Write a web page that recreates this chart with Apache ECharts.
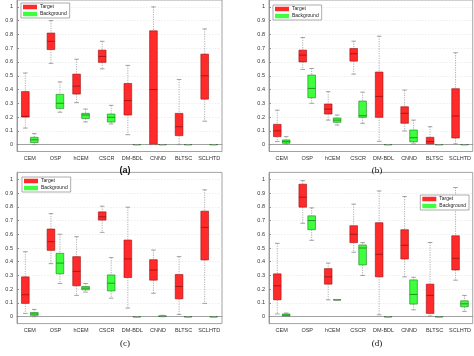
<!DOCTYPE html>
<html>
<head>
<meta charset="utf-8">
<script src="https://cdn.jsdelivr.net/npm/echarts@6/dist/echarts.min.js"></script>
<style>html,body{margin:0;padding:0;background:#fff;}#c{width:474px;height:356px;}</style>
</head>
<body>
<div id="c"></div>
<script>
const categories = ['CEM','OSP','hCEM','CSCR','DM-BDL','CNND','BLTSC','SCLHTD'];
const yTicks = [0,0.1,0.2,0.3,0.4,0.5,0.6,0.7,0.8,0.9,1];
const panelLabels = ['(a)','(b)','(c)','(d)'];
// each item: [min, q1, median, q3, max]
const targetA = [[0.12,0.20,0.205,0.385,0.52],[0.59,0.69,0.75,0.81,0.90],[0.305,0.367,0.425,0.512,0.62],[0.55,0.597,0.64,0.686,0.75],[0.072,0.215,0.32,0.444,0.575],[0,0.002,0.4,0.826,1.0],[0,0.065,0.13,0.227,0.473],[0.17,0.33,0.5,0.657,0.84]];
const backgroundA = [[0,0.015,0.035,0.053,0.08],[0.235,0.263,0.30,0.365,0.455],[0.165,0.19,0.215,0.227,0.258],[0.15,0.164,0.198,0.222,0.285],[0,0,0,0,0],[0,0,0,0,0],[0,0,0,0,0],[0,0,0,0,0]];
const targetB = [[0.022,0.058,0.10,0.147,0.25],[0.546,0.60,0.65,0.686,0.778],[0.178,0.222,0.258,0.295,0.384],[0.512,0.606,0.66,0.698,0.751],[0.024,0.198,0.35,0.527,0.787],[0.099,0.155,0.227,0.275,0.396],[0,0.005,0.022,0.053,0.13],[0.005,0.048,0.208,0.406,0.667]];
const backgroundB = [[0.003,0.01,0.022,0.034,0.058],[0.30,0.34,0.408,0.505,0.553],[0.142,0.162,0.178,0.193,0.215],[0.155,0.198,0.21,0.316,0.381],[0,0,0,0,0],[0.005,0.02,0.05,0.106,0.178],[0,0,0,0,0],[0,0,0,0,0]];
const targetC = [[0.024,0.097,0.16,0.29,0.473],[0.386,0.483,0.546,0.638,0.75],[0.155,0.225,0.33,0.437,0.582],[0.614,0.703,0.727,0.763,0.804],[0.063,0.285,0.42,0.558,0.797],[0.171,0.266,0.34,0.415,0.485],[0.017,0.13,0.22,0.307,0.437],[0.097,0.413,0.65,0.768,0.923]];
const backgroundC = [[0,0.01,0.02,0.031,0.053],[0.242,0.312,0.39,0.461,0.60],[0.179,0.196,0.208,0.22,0.242],[0.135,0.188,0.244,0.304,0.43],[0,0,0,0,0],[0,0.002,0.004,0.006,0.01],[0,0,0,0,0],[0,0,0,0,0]];
const targetD = [[0.02,0.123,0.225,0.312,0.534],[0.68,0.797,0.87,0.964,0.99],[0.123,0.237,0.29,0.35,0.39],[0.469,0.539,0.60,0.662,0.819],[0.014,0.29,0.454,0.684,0.915],[0.29,0.42,0.52,0.633,0.874],[0.005,0.024,0.155,0.237,0.54],[0.266,0.34,0.425,0.589,0.94]];
const backgroundD = [[0.002,0.005,0.012,0.02,0.027],[0.556,0.633,0.70,0.734,0.792],[0.123,0.123,0.123,0.123,0.123],[0.30,0.377,0.50,0.522,0.539],[0,0,0,0,0],[0.05,0.092,0.162,0.268,0.287],[0,0,0,0,0],[0.039,0.072,0.094,0.116,0.155]];

const panels = [
  {t: targetA, b: backgroundA},
  {t: targetB, b: backgroundB},
  {t: targetC, b: backgroundC},
  {t: targetD, b: backgroundD}
];
const gridRects = [
  {left:17, top:0, width:205, height:151.5},
  {left:269, top:0, width:204, height:151.5},
  {left:17, top:172.4, width:205, height:151.2},
  {left:269, top:172.4, width:204, height:151.2}
];
const legendPos = [
  {left:21, top:3},
  {left:273, top:5},
  {left:22, top:177},
  {right:5, top:195}
];
const labelPos = [[120,161],[372,161],[120,334],[372,334]];

const RED = '#ff2a2a', RED_B = '#9b1010', GREEN = '#3dff3d', GREEN_B = '#1f7a1f';

function makeRender(side, fill, border) {
  return function (params, api) {
    const idx = api.value(0);
    const bw = api.size([1, 0])[0];
    const base = api.coord([idx, 0]);
    const cx = base[0] + side * bw * 0.175;
    const w = bw * 0.3;
    const Y = v => api.coord([idx, v])[1];
    const mn = Y(api.value(1)), q1 = Y(api.value(2)), md = Y(api.value(3)), q3 = Y(api.value(4)), mx = Y(api.value(5));
    const wStyle = {stroke:'#9a9a9a', lineWidth:0.8, lineDash:[1.2,1.2]};
    const cStyle = {stroke:'#8a8a8a', lineWidth:0.8};
    const cw = w * 0.3;
    return {type:'group', children:[
      {type:'line', shape:{x1:cx,y1:mx,x2:cx,y2:q3}, style:wStyle},
      {type:'line', shape:{x1:cx,y1:q1,x2:cx,y2:mn}, style:wStyle},
      {type:'rect', shape:{x:cx-w/2, y:q3, width:w, height:Math.max(q1-q3,0.01)}, style:{fill:fill, stroke:border, lineWidth:0.6}},
      {type:'line', shape:{x1:cx-w/2,y1:md,x2:cx+w/2,y2:md}, style:{stroke:border, lineWidth:0.8}},
      {type:'line', shape:{x1:cx-cw,y1:mx,x2:cx+cw,y2:mx}, style:cStyle},
      {type:'line', shape:{x1:cx-cw,y1:mn,x2:cx+cw,y2:mn}, style:cStyle}
    ]};
  };
}

const grid = [], xAxis = [], yAxis = [], series = [], legend = [], title = [];
panels.forEach((p, i) => {
  grid.push(Object.assign({show:true, backgroundColor:'#fff', borderColor:'#8c8c8c', borderWidth:0.8, containLabel:false}, gridRects[i]));
  xAxis.push({
    type:'category', gridIndex:i, data:categories,
    axisLine:{lineStyle:{color:'#8c8c8c', width:0.8}},
    axisTick:{show:false},
    axisLabel:{interval:0, fontSize:5.5, color:'#333', margin:4, fontFamily:'Liberation Sans, Arial'},
    splitLine:{show:false}
  });
  yAxis.push({
    type:'value', gridIndex:i, min:-0.05, max:1.05,
    axisLine:{show:true, lineStyle:{color:'#8c8c8c', width:0.8}},
    axisTick:{show:true, inside:true, length:2, customValues:yTicks, lineStyle:{color:'#8c8c8c'}},
    axisLabel:{fontSize:5.5, color:'#333', margin:4, customValues:yTicks, fontFamily:'Liberation Sans, Arial',
      formatter: v => String(v)},
    splitLine:{show:true, lineStyle:{color:'#e2e2e2', width:0.6, type:[1.5,1.5]}}
  });
  series.push({
    type:'custom', name:'Target', xAxisIndex:i, yAxisIndex:i,
    itemStyle:{color:RED, borderColor:RED_B},
    renderItem: makeRender(-1, RED, RED_B),
    encode:{x:0, y:[1,2,3,4,5]},
    data: p.t.map((d, k) => [k].concat(d)),
    clip:false
  });
  series.push({
    type:'custom', name:'Background', xAxisIndex:i, yAxisIndex:i,
    itemStyle:{color:GREEN, borderColor:GREEN_B},
    renderItem: makeRender(1, GREEN, GREEN_B),
    encode:{x:0, y:[1,2,3,4,5]},
    data: p.b.map((d, k) => [k].concat(d)),
    clip:false
  });
  legend.push(Object.assign({
    data:['Target','Background'], orient:'vertical', icon:'rect',
    itemWidth:14, itemHeight:4.5, itemGap:2, padding:[1.5,3,1.5,2],
    backgroundColor:'#fff', borderColor:'#777', borderWidth:0.6,
    textStyle:{fontSize:5, color:'#222', padding:[0,0,0,-2], fontFamily:'Liberation Sans, Arial'},
    selectedMode:false
  }, legendPos[i]));
  title.push({
    text: panelLabels[i], left: labelPos[i][0], top: labelPos[i][1], textAlign:'center',
    textStyle:{fontSize:9, fontWeight: i===0 ? 'bold' : 'normal', color:'#111', fontFamily: i===0 ? 'Liberation Sans, Arial' : 'Liberation Serif, Times New Roman'}
  });
});

const chart = echarts.init(document.getElementById('c'), null, {renderer:'canvas'});
chart.setOption({animation:false, backgroundColor:'#fff', grid, xAxis, yAxis, series, legend, title});
</script>
</body>
</html>
